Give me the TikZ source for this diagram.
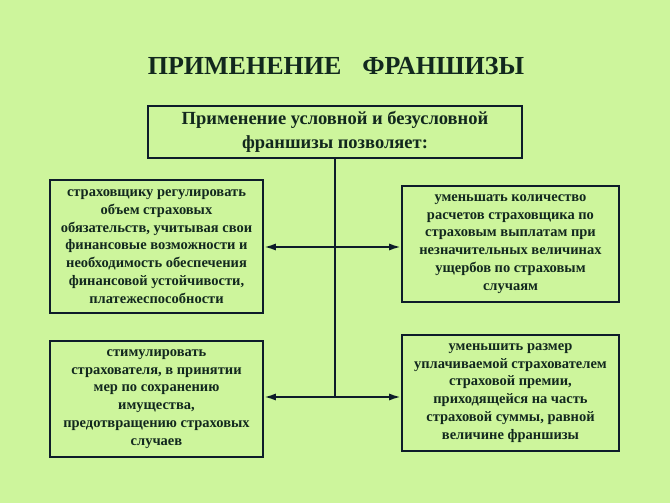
\documentclass[tikz,border=0pt]{standalone}
\usepackage{fontspec}
\setmainfont{Liberation Serif}
\usetikzlibrary{arrows.meta}
\definecolor{bg}{HTML}{CDF59C}
\definecolor{txt}{HTML}{12281E}
\definecolor{ln}{HTML}{0E1C2A}
\tikzset{
  box/.style={draw=ln, line width=1.6pt, rectangle, inner sep=0pt, align=center, text=txt,
    font=\bfseries\fontsize{14.5}{17.8}\selectfont},
  conn/.style={draw=ln, line width=2.2pt},
  arr/.style={conn, -{Latex[length=12pt,width=7pt]}}
}
\begin{document}
\begin{tikzpicture}[x=1pt,y=-1pt]
\fill[bg] (0,0) rectangle (670,503);
\useasboundingbox (0,0) rectangle (670,503);
\node[text=txt, font=\bfseries\fontsize{26}{30}\selectfont] (title) at (336,66) {ПРИМЕНЕНИЕ\hspace{0.8em}ФРАНШИЗЫ};
\node[box, minimum width=374pt, minimum height=52pt, font=\bfseries\fontsize{18.5}{23.5}\selectfont] (top) at (335,132)
  {\raisebox{-2.5pt}{Применение условной и безусловной}\\\raisebox{-2.5pt}{франшизы позволяет:}};
\node[box, minimum width=213pt, minimum height=133pt] (l1) at (156.5,246.5)
  {страховщику регулировать\\объем страховых\\обязательств, учитывая свои\\финансовые возможности и\\необходимость обеспечения\\финансовой устойчивости,\\платежеспособности};
\node[box, minimum width=217pt, minimum height=116pt] (r1) at (510.5,244)
  {уменьшать количество\\расчетов страховщика по\\страховым выплатам при\\незначительных величинах\\ущербов по страховым\\случаям};
\node[box, minimum width=213pt, minimum height=116pt] (l2) at (156.5,399)
  {стимулировать\\страхователя, в принятии\\мер по сохранению\\имущества,\\предотвращению страховых\\случаев};
\node[box, minimum width=217pt, minimum height=116pt] (r2) at (510.5,393)
  {уменьшить размер\\уплачиваемой страхователем\\страховой премии,\\приходящейся на часть\\страховой суммы, равной\\величине франшизы};
\coordinate (j1) at (335,247);
\coordinate (j2) at (335,397);
\draw[conn] (top.south) -- (j2);
\draw[arr] (j1) -- (l1.east |- j1);
\draw[arr] (j1) -- (r1.west |- j1);
\draw[arr] (j2) -- (l2.east |- j2);
\draw[arr] (j2) -- (r2.west |- j2);
\end{tikzpicture}
\end{document}
